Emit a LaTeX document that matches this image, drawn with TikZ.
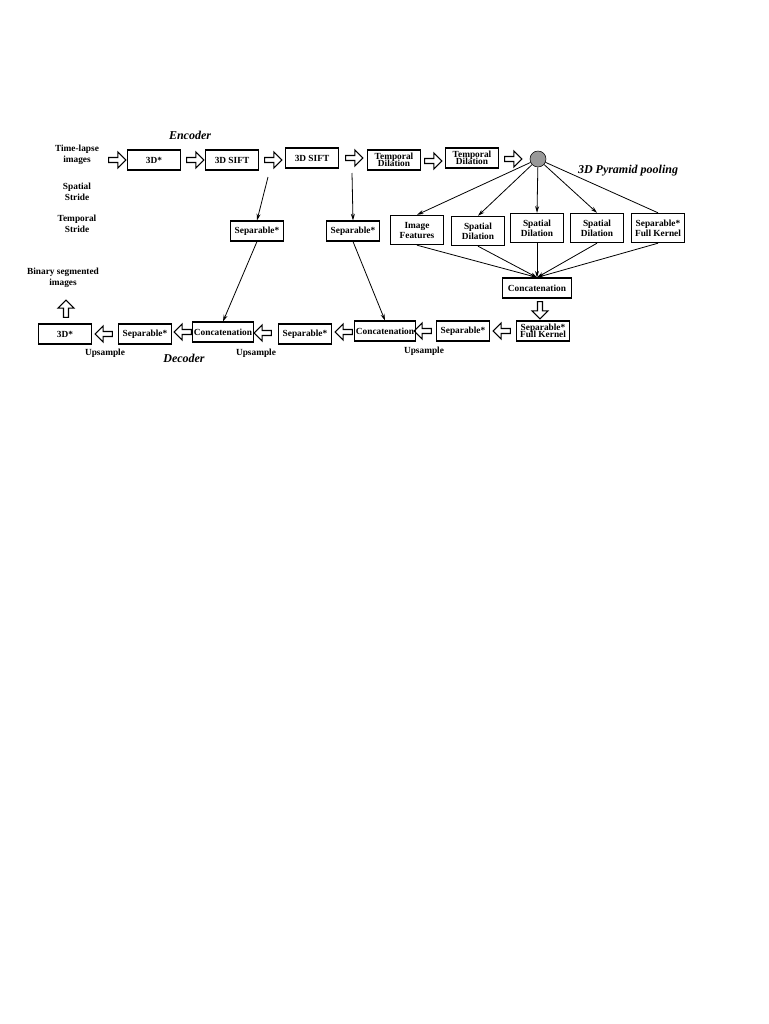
\documentclass[tikz,border=0pt]{standalone}
\usepackage{fontspec}
\setmainfont{Liberation Serif}
\usetikzlibrary{shapes.arrows,arrows.meta}
\begin{document}
\begin{tikzpicture}[x=0.75pt,y=-0.75pt,
 box/.style={draw,thick,minimum width=40pt,minimum height=15pt,inner sep=1pt,font=\fontsize{7}{7.5}\selectfont\bfseries,align=center},
 tbox/.style={box,minimum height=22pt},
 lbl/.style={font=\fontsize{7}{8}\selectfont\bfseries,align=center},
 ttl/.style={font=\fontsize{9}{10}\selectfont\bfseries\itshape},
 fat/.style={single arrow,draw,thick,minimum height=13pt,minimum width=12pt,single arrow head extend=2pt,inner sep=0.5pt},
 ln/.style={-{Stealth[length=5pt,width=3pt]},semithick}]
\useasboundingbox (0,0) rectangle (768,1024);
\node[box] (a1) at (154,160) {3D*};
\node[box] (a2) at (232,160) {3D SIFT};
\node[box] (a3) at (312,158) {3D SIFT};
\node[box,minimum height=15pt] (a4) at (394,160) {Temporal\\[-2pt]Dilation};
\node[box] (a5) at (472,158) {Temporal\\[-2pt]Dilation};
\node[circle,draw,fill=gray!80,minimum size=12pt,inner sep=0] (c) at (538,159) {};
\node[box] (s1) at (257,231) {Separable*};
\node[box] (s2) at (353,231) {Separable*};
\node[tbox] (p1) at (417,230) {Image\\Features};
\node[tbox] (p2) at (478,231) {Spatial\\Dilation};
\node[tbox] (p3) at (537,228) {Spatial\\Dilation};
\node[tbox] (p4) at (597,228) {Spatial\\Dilation};
\node[tbox] (p5) at (658,228) {Separable*\\Full Kernel};
\node[box,minimum width=52pt] (cc) at (537,288) {Concatenation};
\node[box] (b1) at (543,331) {Separable*\\[-2pt]Full Kernel};
\node[box] (b2) at (463,331) {Separable*};
\node[box] (b3) at (385,331) {Concatenation};
\node[box] (b4) at (305,334) {Separable*};
\node[box] (b5) at (223,332) {Concatenation};
\node[box] (b6) at (145,334) {Separable*};
\node[box] (b7) at (65,334) {3D*};
\node[ttl] (enc) at (190,135) {Encoder};
\node[ttl] (dec) at (184,358) {Decoder};
\node[ttl] (pyr) at (628,171) {3D Pyramid pooling};
\node[lbl] (t1) at (77,155) {Time-lapse\\images};
\node[lbl] (t2) at (77,192) {Spatial\\Stride};
\node[lbl] (t3) at (77,224) {Temporal\\Stride};
\node[lbl] (t4) at (63,278) {Binary segmented\\images};
\node[lbl] (u1) at (105,353) {Upsample};
\node[lbl] (u2) at (256,353) {Upsample};
\node[lbl] (u3) at (424,351) {Upsample};
\foreach \x/\y in {116/160,194/160,272/160,353/158,432/161,512/159}
  \node[fat] at (\x,\y) {};
\foreach \x/\y in {503/331,424/331,345/332,264/333,184/332,105/334}
  \node[fat,shape border rotate=180] at (\x,\y) {};
\node[fat,shape border rotate=270] at (540,309) {};
\node[fat,shape border rotate=90] at (66,310) {};
\coordinate (q1) at (268,177);
\coordinate (q2) at (352,173);
\draw[ln] (q1) -- (s1.north);
\draw[ln] (q2) -- (s2.north);
\draw[ln] (s1.south) -- (b5.north);
\draw[ln] (s2.south) -- (b3.north);
\foreach \p in {p1,p2,p3,p4} \draw[ln] (c) -- (\p.north);
\draw[semithick] (c) -- (p5.north);
\foreach \p in {p1,p2,p3,p4,p5} \draw[ln] (\p.south) -- (cc.north);
\end{tikzpicture}
\end{document}
